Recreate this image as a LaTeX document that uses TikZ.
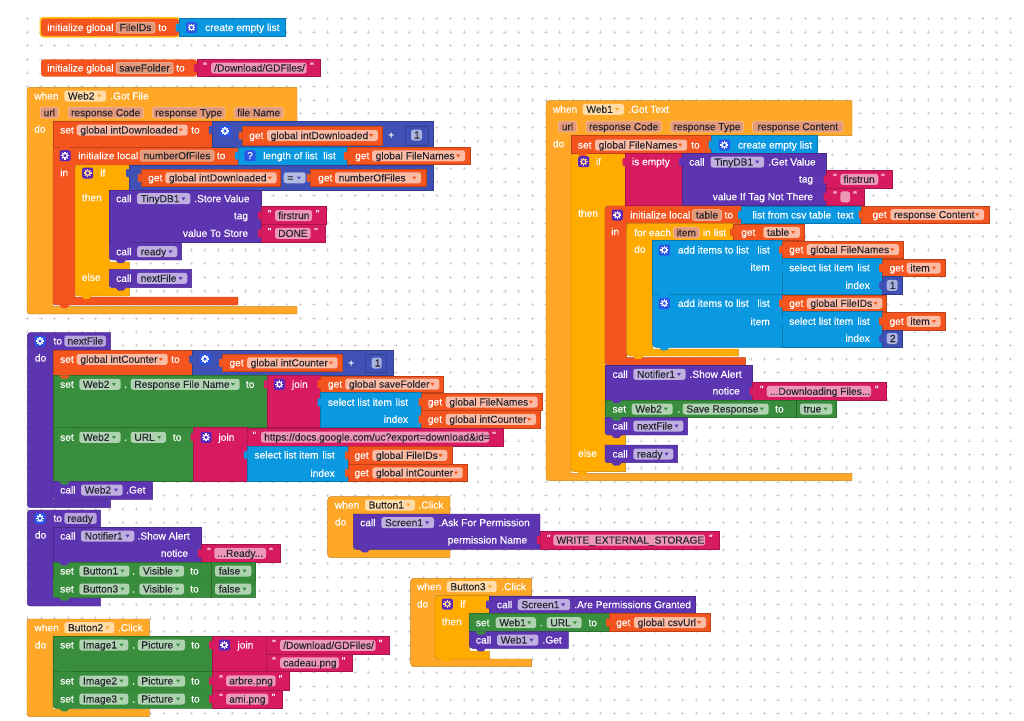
\documentclass[tikz,border=0pt]{standalone}
\usepackage{fontspec}
\setmainfont{Liberation Sans}
\newfontfamily\wfam[FakeBold=0.35]{Liberation Sans}
\newfontfamily\dfam[FakeBold=0.12]{Liberation Sans}
\definecolor{evt}{HTML}{FFA726}
\definecolor{ctrl}{HTML}{FFAB00}
\definecolor{vari}{HTML}{F4541E}
\definecolor{proc}{HTML}{5E35B1}
\definecolor{lst}{HTML}{0A98E0}
\definecolor{txtb}{HTML}{D81B60}
\definecolor{mth}{HTML}{3F51B5}
\definecolor{grn}{HTML}{388E3C}
\definecolor{gridc}{HTML}{D4D4D4}
\definecolor{fdark}{HTML}{26262E}
\definecolor{vfill}{HTML}{E2987A}
\definecolor{vline}{HTML}{F7C8B0}
\definecolor{gearblue}{HTML}{2A56E8}
\definecolor{gearpurp}{HTML}{5A27B8}
\definecolor{selc}{HTML}{FFC21A}
\newcommand\fz{\fontsize{10.2}{12}\selectfont}
\tikzset{
 blk/.style={fill=#1,draw=#1!78!black,line width=.45pt},
 tw/.style={inner sep=0pt,text=white,font=\wfam\fz},
 td/.style={inner sep=0pt,text=fdark,font=\dfam\fz},
}
\newcommand\bxr[5]{\path[blk=#5] (#1,#2) rectangle (#3,#4);}
\newcommand\sbx[5]{\path[blk=#5] (#3,#2) -- (#1,#2) [rounded corners=3pt] -- (#1,#4) [sharp corners] -- (#3,#4) -- cycle;}
\newcommand\hatc[9]{\path[blk=#9] (#3,#2) [rounded corners=3pt] -- (#1,#2) -- (#1,#8) [sharp corners] -- (#7,#8) -- (#7,#6) -- (#5,#6) -- (#5,#4) -- (#3,#4) -- cycle;}
\newcommand\ntch[3]{\fill[#3] (#1+6,#2-.3) -- (#1+9,#2+3) -- (#1+14,#2+3) -- (#1+17,#2-.3) -- cycle;}
\newcommand\vtab[3]{\fill[#3,rounded corners=1pt] (#1+.5,#2-4) -- (#1-3.2,#2-4) -- (#1-3.2,#2+4) -- (#1+.5,#2+4) -- cycle;}
\newcommand\tx[3]{\node[tw,anchor=base west] at (#1,#2+3.5) {#3};}
\newcommand\txr[3]{\node[tw,anchor=base east] at (#1,#2+3.5) {#3};}
\newcommand\ddf[5]{\path[fill=#5!40!white,rounded corners=2.5pt] (#1,#3-5.5) rectangle (#2,#3+5.5);
 \node[td,anchor=base west] at (#1+3.5,#3+3.5) {#4};
 \fill[#5] (#2-8.8,#3-1.3) -- (#2-4.8,#3-1.3) -- (#2-6.8,#3+1.6) -- cycle;}
\newcommand\stf[5]{\path[fill=#5!45!white,rounded corners=2.5pt] (#1,#3-5.5) rectangle (#2,#3+5.5);
 \node[td,anchor=base west] at (#1+3,#3+3.5) {#4};}
\newcommand\vrf[4]{\path[fill=vfill,draw=vline,line width=.5pt,rounded corners=2.5pt] (#1,#3-5.5) rectangle (#2,#3+5.5);
 \node[td,anchor=base] at ({(#1+#2)/2},#3+3.5) {#4};}
\newcommand\qt[2]{\node[tw,anchor=base,font=\wfam\fontsize{10}{10}\selectfont] at (#1,#2+1.5) {"};}
\newcommand\gearic[4]{\path[fill=#3,rounded corners=2pt] (#1-5.5,#2-5.5) rectangle (#1+5.5,#2+5.5);
 \foreach \a in {0,45,...,315}{\draw[#4,line width=1.1pt] (#1,#2) ++(\a:2.2) -- ++(\a:1.7);}
 \draw[#4,line width=1.1pt] (#1,#2) circle (2.2);}
\newcommand\gb[2]{\gearic{#1}{#2}{gearblue}{white}}
\newcommand\gp[2]{\gearic{#1}{#2}{gearpurp}{white}}
\newcommand\ga[2]{\gearic{#1}{#2}{gearpurp}{ctrl!40!white}}
% get block: x1 x2 y1 y2 label-x field-x1 field-x2 text
\newcommand\getb[8]{\bxr{#1}{#3}{#2}{#4}{vari}\vtab{#1}{({#3+#4)/2}}{vari}
 \tx{#5}{({#3+#4)/2}}{get}\ddf{#6}{#7}{({#3+#4)/2}}{#8}{vari}}
% string block: x1 x2 y1 y2 qx1 fx1 fx2 qx2 text
\newcommand\strb[9]{\bxr{#1}{#3}{#2}{#4}{txtb}\vtab{#1}{({#3+#4)/2}}{txtb}
 \qt{#5}{({#3+#4)/2}}\stf{#6}{#7}{({#3+#4)/2}}{#9}{txtb}\qt{#8}{({#3+#4)/2}}}
\begin{document}
\begin{tikzpicture}[x=1pt,y=-1pt]
\useasboundingbox (0,0) rectangle (1024,720);
\fill[white] (0,0) rectangle (1024,720);
\draw[gridc,line width=.45pt] \foreach \i in {0,...,72}{\foreach \j in {0,...,51}{
 ({27.3+13.65*\i-1.6},{18.3+13.63*\j}) -- ++(3.2,0) ({27.3+13.65*\i},{18.3+13.63*\j-1.6}) -- ++(0,3.2)}};

% ---------- global FileIDs
\path[fill=selc,rounded corners=4pt] (39.5,16.8) rectangle (180,37.5);
\path[fill=vari,rounded corners=3pt] (41,18.5) rectangle (179,36);
\bxr{179}{18.5}{285}{36}{lst}\vtab{179}{27.5}{lst}
\tx{47}{27.5}{initialize global}\vrf{116}{155}{27.5}{FileIDs}\tx{158}{27.5}{to}
\gb{191.5}{27.5}\tx{205}{27.5}{create empty list}

% ---------- global saveFolder
\path[fill=vari,rounded corners=3pt] (41,59.3) rectangle (197,76.7);
\strb{197}{320.7}{59.3}{76.7}{205}{211}{306.7}{312}{/Download/GDFiles/}
\tx{47}{68}{initialize global}\vrf{116}{173}{68}{saveFolder}\tx{176}{68}{to}

% ---------- Web2.Got File
\hatc{27}{87.3}{297}{121}{53}{306.7}{297}{314}{evt}
\tx{34}{96}{when}\ddf{64.3}{106}{96}{Web2}{evt}\tx{110}{96}{.Got File}
\vrf{40}{58.7}{112.7}{url}\vrf{68}{143.3}{112.7}{response Code}\vrf{152.3}{225}{112.7}{response Type}\vrf{234}{283.3}{112.7}{file Name}
\tx{34}{129}{do}
\hatc{53}{147}{238}{165}{75}{297}{238}{305}{vari}
\bxr{53}{121}{212}{147}{vari}
\tx{60}{130}{set}\ddf{76.7}{187.7}{130}{global intDownloaded}{vari}\tx{191}{130}{to}
\bxr{212}{121}{433}{147}{mth}\vtab{212}{130}{mth}\gb{225}{131}
\getb{242}{382}{126}{145}{249}{267}{378}{global intDownloaded}
\tx{388}{135}{+}\bxr{405}{126}{428}{145}{mth}\stf{411}{422}{135}{1}{mth}
\ntch{53}{147}{vari}
\gp{65}{155.7}\tx{78}{155.7}{initialize local}\vrf{140}{214}{155.7}{numberOfFiles}\tx{216.7}{155.7}{to}
\bxr{238}{147}{347}{165}{lst}\vtab{238}{155.7}{lst}
\path[fill=gearblue,rounded corners=2pt] (244.5,150.2) rectangle (255.5,161.2);\node[tw,anchor=base,font=\wfam\fz] at (250,159.2) {?};
\tx{263}{155.7}{length of list}\tx{323}{155.7}{list}
\getb{347}{470}{147}{164.5}{355}{372}{465}{global FileNames}
\tx{60}{172.7}{in}
\path[blk=ctrl] (129.3,165) [rounded corners=3pt] -- (75,165) -- (75,296) [sharp corners] -- (129.3,296) -- (129.3,288) -- (109.3,288) -- (109.3,270) -- (129.3,270) -- (129.3,262) -- (109.3,262) -- (109.3,190) -- (129.3,190) -- cycle;
\ntch{75}{296}{ctrl}\ntch{53}{305}{vari}
\ga{87.7}{173}\tx{100}{173}{if}
\bxr{129.3}{165}{433}{190}{mth}\vtab{129.3}{173}{mth}
\getb{141}{280.7}{169}{186.7}{148}{165.3}{276.7}{global intDownloaded}
\ddf{283.7}{305.7}{177.8}{=\ }{mth}
\getb{310}{426}{169}{186.7}{318}{335}{421}{numberOfFiles}
\tx{81.7}{197.7}{then}
\bxr{109.3}{190}{261}{242.5}{proc}
\tx{116}{198.7}{call}\ddf{137}{190.3}{198.7}{TinyDB1}{proc}\tx{194}{198.7}{.Store Value}
\txr{248.3}{215.7}{tag}\txr{248.3}{233.3}{value To Store}
\strb{261}{326.7}{206.7}{224.3}{269.5}{275}{312}{317.5}{firstrun}
\strb{261}{325}{224.3}{242.5}{269.5}{275}{310.7}{316}{DONE}
\sbx{109.3}{242.5}{181.7}{260}{proc}
\ntch{109.3}{242.5}{proc}\ntch{109.3}{260}{proc}
\tx{116}{251.7}{call}\ddf{137}{177.3}{251.7}{ready}{proc}
\tx{81.7}{277.3}{else}
\sbx{109.3}{269.3}{191.7}{287.7}{proc}\ntch{109.3}{287.7}{proc}
\tx{116}{278.3}{call}\ddf{137}{187.3}{278.3}{nextFile}{proc}

% ---------- Web1.Got Text
\hatc{546}{100.7}{852}{135.7}{571}{473.3}{852}{480.7}{evt}
\tx{552.7}{109.3}{when}\ddf{582.7}{624}{109.3}{Web1}{evt}\tx{628}{109.3}{.Got Text}
\vrf{558.3}{576.7}{126.7}{url}\vrf{586}{661.3}{126.7}{response Code}\vrf{670.7}{743.3}{126.7}{response Type}\vrf{752.7}{843}{126.7}{response Content}
\tx{552.7}{143.7}{do}
\path[blk=ctrl] (625.7,153.3) [rounded corners=3pt] -- (571,153.3) -- (571,471.7) [sharp corners] -- (625.7,471.7) -- (625.7,462.7) -- (605,462.7) -- (605,445) -- (625.7,445) -- (625.7,435) -- (605,435) -- (605,206) -- (625.7,206) -- cycle;
\ntch{571}{471.7}{ctrl}
\bxr{571}{135.7}{711.7}{153.3}{vari}\ntch{571}{153.3}{vari}
\tx{577.7}{145}{set}\ddf{595}{687}{145}{global FileNames}{vari}\tx{691}{145}{to}
\bxr{711.7}{135.7}{817.7}{153.3}{lst}\vtab{711.7}{145}{lst}\gb{724.3}{145}\tx{737.7}{145}{create empty list}
\ga{583.7}{161.7}\tx{595.7}{161.7}{if}\tx{578}{213.3}{then}
\bxr{625.7}{153.3}{682.3}{205.7}{txtb}\vtab{625.7}{162}{txtb}\tx{631.7}{161.7}{is empty}
\bxr{682.3}{153.3}{826.7}{205.7}{proc}\vtab{682.3}{162}{proc}
\tx{689}{162}{call}\ddf{710.7}{764}{162}{TinyDB1}{proc}\tx{768}{162}{.Get Value}
\txr{813.3}{179}{tag}\txr{813.3}{196.7}{value If Tag Not There}
\strb{826.7}{892.3}{170.7}{188}{835}{840.3}{878.3}{883}{firstrun}
\strb{826.7}{864.3}{188}{205.7}{835}{840.3}{850}{855}{}
% init local table
\hatc{605}{206}{741.3}{223.3}{626.7}{357.7}{745.7}{365}{vari}
\gp{617.3}{215}\tx{630}{215}{initialize local}\vrf{692.3}{721.7}{215}{table}\tx{724.3}{215}{to}
\bxr{741.3}{206}{861.7}{223.3}{lst}\vtab{741.3}{215}{lst}
\tx{752.3}{215}{list from csv table}\tx{837}{215}{text}
\getb{861.7}{989}{206}{223.3}{872.3}{890.3}{984}{response Content}
\tx{611}{231.7}{in}
% for each
\hatc{626.7}{223.3}{733.3}{240.7}{652.7}{349}{738.3}{356}{ctrl}
\ntch{626.7}{356}{ctrl}\ntch{605}{365}{vari}
\tx{634}{232.7}{for each}\vrf{673.3}{699.3}{232.7}{item}\tx{702.7}{232.7}{in list}
\getb{733.3}{804}{224}{240.7}{741}{763.3}{800}{table}
\tx{634}{249.3}{do}
% add items 1
\bxr{652.7}{240.7}{782.3}{294.3}{lst}
\gb{664.3}{250}\tx{677.7}{250}{add items to list}\txr{770}{250}{list}\txr{770}{267.3}{item}
\getb{782.3}{903.3}{241}{258.3}{789}{806.7}{899}{global FileNames}
\bxr{782.3}{258.3}{882.3}{294.3}{lst}\vtab{782.3}{267.3}{lst}
\tx{789}{267.7}{select list item}\txr{870}{267.7}{list}\txr{870}{285.3}{index}
\getb{882.3}{945}{259.3}{276.7}{889.3}{906.7}{940.7}{item}
\bxr{882.3}{276.7}{902.3}{294.3}{mth}\vtab{882.3}{285.3}{mth}\stf{886.7}{897.7}{285.3}{1}{mth}
% add items 2
\sbx{652.7}{294.3}{782.3}{347.3}{lst}\ntch{652.7}{294.3}{lst}\ntch{652.7}{347.3}{lst}
\gb{664.3}{303.3}\tx{677.7}{303.3}{add items to list}\txr{770}{303.3}{list}\txr{770}{321.7}{item}
\getb{782.3}{886.7}{295}{311.7}{789}{806.7}{882.3}{global FileIDs}
\bxr{782.3}{311.7}{882.3}{347.3}{lst}\vtab{782.3}{321.3}{lst}
\tx{789}{321.3}{select list item}\txr{870}{321.3}{list}\txr{870}{338.3}{index}
\getb{882.3}{945}{312.7}{330}{889.3}{906.7}{940.7}{item}
\bxr{882.3}{330}{902.3}{347.3}{mth}\vtab{882.3}{338.5}{mth}\stf{886.7}{897.7}{338.5}{2}{mth}
% notifier
\bxr{605}{365}{752.7}{400}{proc}
\tx{612.3}{374.3}{call}\ddf{633.3}{685.7}{374.3}{Notifier1}{proc}\tx{689.3}{374.3}{.Show Alert}\txr{740}{391}{notice}
\strb{752.7}{886}{382.7}{400}{761.7}{766.7}{871}{876.7}{...Downloading Files...}
\bxr{605}{400}{836.7}{417.7}{grn}\ntch{605}{400}{proc}
\tx{612.3}{409}{set}\ddf{631.7}{672.7}{409}{Web2}{grn}\tx{677.3}{409}{.}\ddf{682.7}{768.7}{409}{Save Response}{grn}\tx{775}{409}{to}
\draw[grn!70!black,line width=.5pt] (796,400) -- (796,417.7);
\ddf{800}{832.3}{409}{true}{grn}
\sbx{605}{417.7}{687.7}{435}{proc}\ntch{605}{417.7}{grn}\ntch{605}{435}{proc}
\tx{612.3}{426}{call}\ddf{633.3}{683.3}{426}{nextFile}{proc}
\tx{578}{453.3}{else}
\sbx{605}{445}{677.7}{462.7}{proc}\ntch{605}{462.7}{proc}
\tx{612.3}{454}{call}\ddf{633.3}{673.3}{454}{ready}{proc}

% ---------- procedure nextFile
\hatc{27.3}{332.7}{110.7}{350}{53}{499.3}{110.7}{507.7}{proc}
\gb{40}{341}\tx{53.3}{341}{to}\stf{64.3}{106}{341}{nextFile}{proc}\tx{34.7}{358}{do}
\bxr{53}{350}{192.3}{375.7}{vari}
\tx{60}{359.3}{set}\ddf{76.7}{167.7}{359.3}{global intCounter}{vari}\tx{171}{359.3}{to}
\bxr{192.3}{350}{393}{375.7}{mth}\vtab{192.3}{359.3}{mth}\gb{205}{359}
\getb{222.3}{342}{354}{371.7}{229.3}{247}{337.7}{global intCounter}
\tx{348}{363}{+}\bxr{365}{354}{386.7}{372}{mth}\stf{371.7}{381.7}{363}{1}{mth}
% response file name
\bxr{53}{375.7}{267}{427.7}{grn}\ntch{53}{375.7}{vari}
\tx{60}{384.3}{set}\ddf{79.3}{120.7}{384.3}{Web2}{grn}\tx{124}{384.3}{.}\ddf{130.7}{239.7}{384.3}{Response File Name}{grn}\tx{245.7}{384.3}{to}
\bxr{267}{375.7}{320.7}{427.7}{txtb}\vtab{267}{384.3}{txtb}\gp{279.3}{384.3}\tx{291.7}{384.3}{join}
\getb{320.7}{443.3}{376}{392.3}{327.7}{345.3}{439.3}{global saveFolder}
\bxr{320.7}{392.3}{421.7}{427.7}{lst}\vtab{320.7}{402.3}{lst}
\tx{327.7}{402.3}{select list item}\txr{408.3}{402.3}{list}\txr{408.3}{419.3}{index}
\getb{421.7}{542.3}{393.3}{410.7}{427.7}{445.7}{537.7}{global FileNames}
\getb{421.7}{540.7}{410.7}{428}{427.7}{445.7}{536}{global intCounter}
% URL
\bxr{53}{427.7}{193.7}{481.7}{grn}\ntch{53}{427.7}{grn}
\tx{60}{437.3}{set}\ddf{79.3}{120.7}{437.3}{Web2}{grn}\tx{124}{437.3}{.}\ddf{130.7}{166}{437.3}{URL}{grn}\tx{172.7}{437.3}{to}
\bxr{193.7}{427.7}{247}{481.7}{txtb}\vtab{193.7}{437.3}{txtb}\gp{206}{437.3}\tx{218.3}{437.3}{join}
\strb{247}{503.3}{428.3}{446}{254.3}{261}{489}{494}{https://docs.google.com/uc?export=download\&id=}
\bxr{247}{446}{348.3}{481.7}{lst}\vtab{247}{455}{lst}
\tx{254.3}{455}{select list item}\txr{335}{455}{list}\txr{335}{473.3}{index}
\getb{348.3}{452}{446.7}{464}{354.3}{372.3}{447.3}{global FileIDs}
\getb{348.3}{467.3}{464}{481.7}{354.3}{372.3}{462.7}{global intCounter}
\sbx{53}{481.7}{152.7}{499.3}{proc}\ntch{53}{481.7}{grn}\ntch{53}{499.3}{proc}
\tx{60}{490}{call}\ddf{81}{122.7}{490}{Web2}{proc}\tx{126}{490}{.Get}

% ---------- procedure ready
\hatc{27.3}{510}{100.7}{527.7}{53}{597.7}{100.7}{606}{proc}
\gb{40}{518.3}\tx{53.3}{518.3}{to}\stf{64.3}{96.7}{518.3}{ready}{proc}\tx{34.7}{535}{do}
\bxr{53}{527.7}{201}{562.3}{proc}
\tx{60}{536}{call}\ddf{81}{134.3}{536}{Notifier1}{proc}\tx{137.3}{536}{.Show Alert}\txr{188.3}{553.3}{notice}
\strb{201}{280}{544.3}{562.3}{209}{214.3}{266}{271}{...Ready...}
\bxr{53}{562.3}{255.7}{580}{grn}\ntch{53}{562.3}{proc}
\tx{60}{571}{set}\ddf{79.3}{129.3}{571}{Button1}{grn}\tx{132}{571}{.}\ddf{139.3}{184}{571}{Visible}{grn}\tx{190}{571}{to}
\draw[grn!70!black,line width=.5pt] (211.3,562.3) -- (211.3,580);\ddf{215}{251.3}{571}{false}{grn}
\sbx{53}{580}{255.7}{597.7}{grn}\ntch{53}{580}{grn}\ntch{53}{597.7}{grn}
\tx{60}{589}{set}\ddf{79.3}{129.3}{589}{Button3}{grn}\tx{132}{589}{.}\ddf{139.3}{184}{589}{Visible}{grn}\tx{190}{589}{to}
\draw[grn!70!black,line width=.5pt] (211.3,580) -- (211.3,597.7);\ddf{215}{251.3}{589}{false}{grn}

% ---------- Button2.Click
\hatc{27}{619}{149.3}{636}{53}{709}{149.3}{716.7}{evt}
\tx{34.3}{627.7}{when}\ddf{64.3}{114.3}{627.7}{Button2}{evt}\tx{117.7}{627.7}{.Click}\tx{34.7}{645}{do}
\bxr{53}{636}{212.3}{671.7}{grn}
\tx{60}{645}{set}\ddf{79.3}{128.3}{645}{Image1}{grn}\tx{132}{645}{.}\ddf{137.7}{185}{645}{Picture}{grn}\tx{191}{645}{to}
\bxr{212.3}{636}{266}{671.7}{txtb}\vtab{212.3}{645}{txtb}\gp{224.3}{645}\tx{237.3}{645}{join}
\strb{266}{389.3}{636.7}{654}{274}{280}{375.7}{380.5}{/Download/GDFiles/}
\strb{266}{352.7}{654}{671.7}{274}{280}{339}{343.5}{cadeau.png}
\bxr{53}{671.7}{212.3}{690}{grn}\ntch{53}{671.7}{grn}
\tx{60}{681}{set}\ddf{79.3}{128.3}{681}{Image2}{grn}\tx{132}{681}{.}\ddf{137.7}{185}{681}{Picture}{grn}\tx{191}{681}{to}
\strb{212.3}{289.3}{671.7}{690}{221}{226}{275.7}{280.5}{arbre.png}
\sbx{53}{690}{212.3}{708.3}{grn}\ntch{53}{690}{grn}\ntch{53}{708.3}{grn}
\tx{60}{699}{set}\ddf{79.3}{128.3}{699}{Image3}{grn}\tx{132}{699}{.}\ddf{137.7}{185}{699}{Picture}{grn}\tx{191}{699}{to}
\strb{212.3}{282.3}{690}{708.3}{221}{226}{268.3}{273.5}{ami.png}

% ---------- Button1.Click
\hatc{327.7}{496.7}{450}{514}{353.3}{549.3}{450}{557.7}{evt}
\tx{334.7}{505}{when}\ddf{365}{415}{505}{Button1}{evt}\tx{418.3}{505}{.Click}\tx{334.7}{522}{do}
\sbx{353.3}{514}{540}{549.3}{proc}\ntch{353.3}{549.3}{proc}
\tx{360}{522.7}{call}\ddf{381.3}{434}{522.7}{Screen1}{proc}\tx{438.3}{522.7}{.Ask For Permission}\txr{527.3}{540}{permission Name}
\strb{540}{719.3}{531}{549.3}{548.7}{553.3}{705}{710.7}{WRITE\_EXTERNAL\_STORAGE}

% ---------- Button3.Click
\hatc{410.7}{578.3}{531.7}{595.7}{435}{659}{531.7}{666.7}{evt}
\tx{416.7}{586.7}{when}\ddf{446.7}{496.7}{586.7}{Button3}{evt}\tx{501}{586.7}{.Click}\tx{416.7}{604}{do}
\path[blk=ctrl] (489.3,595.7) [rounded corners=3pt] -- (435,595.7) -- (435,659) [sharp corners] -- (489.3,659) -- (489.3,651) -- (469.3,651) -- (469.3,613.3) -- (489.3,613.3) -- cycle;
\ntch{435}{659}{ctrl}
\ga{447.3}{604}\tx{460}{604}{if}\tx{441.7}{621.7}{then}
\bxr{489.3}{596}{695.7}{613.3}{proc}\vtab{489.3}{604.7}{proc}
\tx{496.7}{604.7}{call}\ddf{517.7}{570}{604.7}{Screen1}{proc}\tx{574}{604.7}{.Are Permissions Granted}
\bxr{469.3}{613.3}{609.3}{631.7}{grn}
\tx{475.7}{622.7}{set}\ddf{495.7}{536}{622.7}{Web1}{grn}\tx{539.5}{622.7}{.}\ddf{546.7}{581.7}{622.7}{URL}{grn}\tx{588.3}{622.7}{to}
\getb{609.3}{710}{613.3}{631.7}{616}{634}{706}{global csvUrl}
\sbx{469.3}{631.7}{568.3}{648.3}{proc}\ntch{469.3}{631.7}{grn}\ntch{469.3}{648.3}{proc}
\tx{475.7}{640}{call}\ddf{497}{538.3}{640}{Web1}{proc}\tx{542.3}{640}{.Get}
\end{tikzpicture}
\end{document}
